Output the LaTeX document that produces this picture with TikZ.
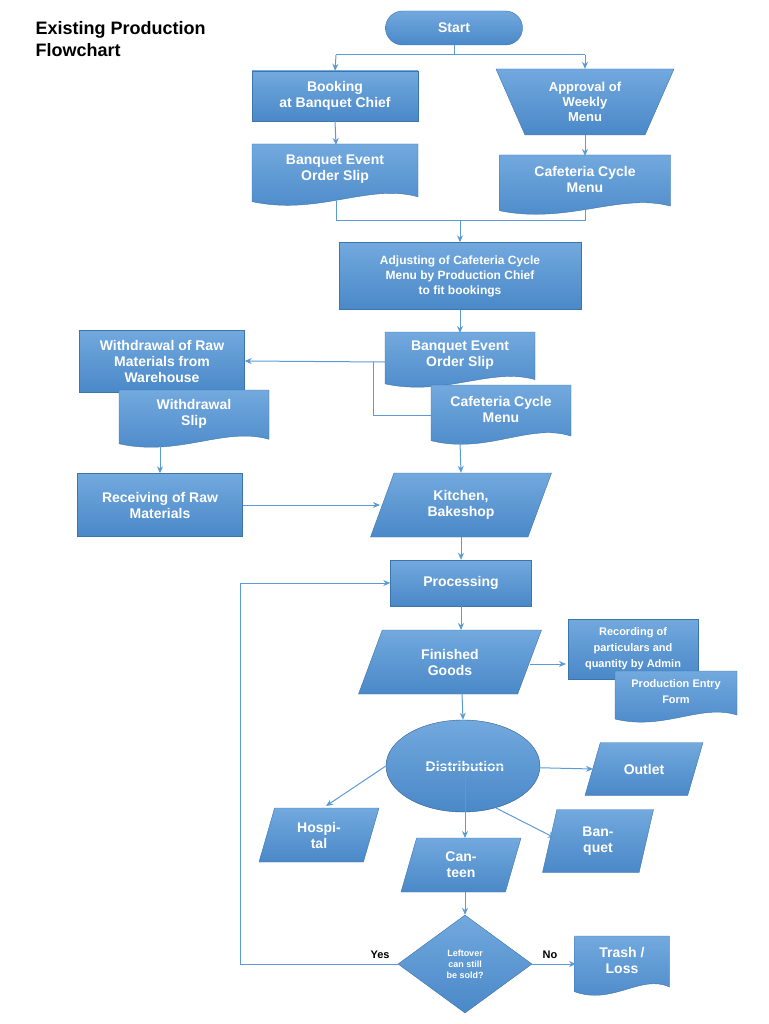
\documentclass[tikz,border=0pt]{standalone}
\usepackage{fontspec}
\setmainfont{Liberation Sans}
\usetikzlibrary{shapes.geometric,arrows.meta}

\definecolor{fillA}{HTML}{72A9DE}
\definecolor{fillB}{HTML}{4A88C8}
\definecolor{edgeC}{HTML}{3C74AC}
\definecolor{lineC}{HTML}{5B9BD5}

\tikzset{
  blk/.style={draw=edgeC, top color=fillA, bottom color=fillB},
  lbl/.style={text=white, align=center, font=\fontsize{14}{16}\selectfont\bfseries, inner sep=0pt},
  flow/.style={draw=lineC, line width=1pt, -{Stealth[length=7pt,width=6pt]}},
  seg/.style={draw=lineC, line width=1pt}
}

% box: name, cx, cy, w, h, text
\newcommand{\rbox}[6]{%
  \node[blk, lbl, minimum width=#4pt, minimum height=#5pt] (#1) at (#2,#3) {#6};}
% document shape with wavy bottom
\newcommand{\docbox}[6]{%
  \path[blk] ({#2-#4/2},{#3-#5/2}) -- ({#2+#4/2},{#3-#5/2}) -- ({#2+#4/2},{#3+#5/2-0.12*#5})
    .. controls ({#2+0.2*#4},{#3+#5/2-0.35*#5}) and ({#2-0.1*#4},{#3+#5/2+0.2*#5}) .. ({#2-#4/2},{#3+#5/2-0.04*#5}) -- cycle;
  \node[lbl, minimum width=#4pt, minimum height=#5pt] (#1) at (#2,{#3-0.08*#5}) {#6};}
% parallelogram
\newcommand{\parabox}[6]{%
  \path[blk] ({#2-#4/2+0.13*#4},{#3-#5/2}) -- ({#2+#4/2},{#3-#5/2}) -- ({#2+#4/2-0.13*#4},{#3+#5/2}) -- ({#2-#4/2},{#3+#5/2}) -- cycle;
  \node[lbl, minimum width=#4pt, minimum height=#5pt] (#1) at (#2,#3) {#6};}

\begin{document}
\begin{tikzpicture}[x=1pt,y=-1pt]
\useasboundingbox (0,0) rectangle (768,1024);

% title
\node[anchor=north west, align=left, font=\fontsize{18}{22}\selectfont\bfseries] (title) at (32,18) {Existing Production\\Flowchart};

% top row
\node[blk, lbl, rounded corners=17pt, minimum width=137pt, minimum height=34pt] (start) at (454,28) {Start};
\rbox{booking}{335}{96}{166}{50}{Booking\\at Banquet Chief}
\path[blk] (496,69) -- (674,69) -- (645,135) -- (525,135) -- cycle;
\node[lbl, font=\fontsize{13}{15}\selectfont\bfseries, minimum width=120pt, minimum height=66pt] (approval) at (585,102) {Approval of\\Weekly\\Menu};
\docbox{beo}{335}{174}{166}{60}{Banquet Event\\Order Slip}
\docbox{ccm}{585}{184}{171}{58}{Cafeteria Cycle\\Menu}

\draw[seg] (start.south) -- (454,55) coordinate (split);
\draw[seg] (336,55) -- (585,55);
\draw[flow] (336,55) -- (booking.north);
\draw[flow] (585,55) -- (approval.north);
\draw[flow] (booking.south) -- (336,145);
\draw[flow] (approval.south) -- (585,156);
\draw[seg] (336,201) -- (336,221) -- (585,221) -- (585,210);

% adjusting
\node[blk, lbl, font=\fontsize{12}{15}\selectfont\bfseries, minimum width=242pt, minimum height=67pt] (adjust) at (460,276) {Adjusting of Cafeteria Cycle\\Menu by Production Chief\\to fit bookings};
\draw[flow] (460,221) -- (adjust.north);

\docbox{beo2}{460}{359}{150}{54}{Banquet Event\\Order Slip}
\docbox{ccm2}{501}{414}{140}{58}{Cafeteria Cycle\\Menu}
\draw[flow] (adjust.south) -- (460,333);

\rbox{withdraw}{162}{361}{165}{62}{Withdrawal of Raw\\Materials from\\Warehouse}
\docbox{wslip}{194}{418}{150}{56}{Withdrawal\\Slip}
\draw[flow] (385,362) -- (withdraw.east);
\draw[seg] (373,362) -- (373,415) -- (431,415);

\rbox{receive}{160}{505}{165}{63}{Receiving of Raw\\Materials}
\draw[flow] (160,446) -- (receive.north);

\parabox{kitchen}{461}{505}{181}{64}{Kitchen,\\Bakeshop}
\draw[flow] (receive.east) -- (380,505);
\draw[flow] (460,442) -- (kitchen.north);

\rbox{process}{461}{583}{141}{46}{Processing}
\draw[flow] (kitchen.south) -- (process.north);

\parabox{finished}{450}{662}{183}{64}{Finished\\Goods}
\draw[flow] (process.south) -- (461,630);

\rbox{record}{633}{649}{130}{60}{\fontsize{11}{14}\selectfont Recording of\\\fontsize{11}{14}\selectfont particulars and\\\fontsize{11}{14}\selectfont quantity by Admin}
\docbox{entry}{676}{696}{122}{50}{\fontsize{11}{14}\selectfont Production Entry\\\fontsize{11}{14}\selectfont Form}
\draw[flow] (530,664) -- (566,664);

% distribution
\node[ellipse, blk, draw=edgeC!80!black, minimum width=154pt, minimum height=92pt] (dist) at (463,766) {};
\node[lbl] (distlbl) at (465,766) {Distribution};
\draw[flow] (462,694) -- (dist.north);

\parabox{outlet}{644}{769}{118}{53}{Outlet}
\parabox{hosp}{319}{835}{120}{54}{Hospi-\\tal}
\parabox{canteen}{461}{865}{120}{54}{Can-\\teen}
\parabox{banquet}{598}{841}{111}{63}{Ban-\\quet}
\draw[seg] (dist.west) -- (465,766);
\draw[flow] (465,766) -- (593,769);
\draw[flow] (dist.west) -- (326,806);
\draw[flow] (465,766) -- (465,838);
\draw[flow] (dist.-52) -- (555,838);

% decision
\node[diamond, blk, aspect=1.37, minimum width=134pt, minimum height=98pt, inner sep=0pt] (decide) at (465,964) {};
\node[lbl, font=\fontsize{9}{11}\selectfont\bfseries] (decidelbl) at (465,964) {Leftover\\can still\\be sold?};
\draw[flow] (465,892) -- (decide.north);

\docbox{trash}{622}{965}{95}{58}{Trash /\\Loss}
\draw[flow] (decide.east) -- (576,964);
\node[font=\fontsize{11}{13}\selectfont\bfseries, anchor=south] (no) at (550,962) {No};
\node[font=\fontsize{11}{13}\selectfont\bfseries, anchor=south] (yes) at (380,962) {Yes};

\draw[flow] (decide.west) -- (240,964) -- (240,583) -- (process.west);
\end{tikzpicture}
\end{document}
